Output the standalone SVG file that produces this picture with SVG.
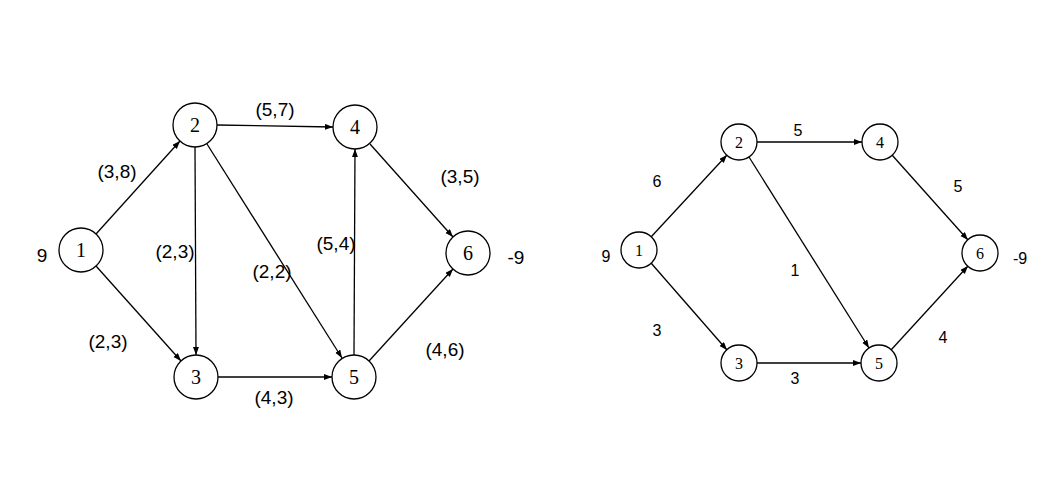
<svg xmlns="http://www.w3.org/2000/svg" width="1053" height="489" viewBox="0 0 1053 489">
<style>
.n{fill:#fff;stroke:#000;stroke-width:1.3}
.nt{font-family:"Liberation Serif",serif;text-anchor:middle;fill:#000}
.lt{font-family:"Liberation Sans",sans-serif;text-anchor:middle;fill:#000}
.e{stroke:#000;stroke-width:1.3;fill:none;marker-end:url(#a)}
</style>
<defs><marker id="a" markerUnits="userSpaceOnUse" markerWidth="9" markerHeight="7" refX="8" refY="3" orient="auto"><path d="M0,0 L8,3 L0,6 z" fill="#000"/></marker></defs>
<rect width="1053" height="489" fill="#fff"/>
<g id="connectors">
<line class="e" x1="96" y1="234" x2="180" y2="141"/>
<line class="e" x1="96" y1="266" x2="181" y2="361"/>
<line class="e" x1="217" y1="125" x2="333" y2="127"/>
<line class="e" x1="195" y1="147" x2="196" y2="355"/>
<line class="e" x1="207" y1="144" x2="342" y2="358"/>
<line class="e" x1="354" y1="355" x2="355" y2="149"/>
<line class="e" x1="370" y1="144" x2="453" y2="237"/>
<line class="e" x1="218" y1="377" x2="332" y2="377"/>
<line class="e" x1="369" y1="361" x2="453" y2="269"/>
<line class="e" x1="651" y1="237" x2="727" y2="155"/>
<line class="e" x1="651" y1="263" x2="727" y2="350"/>
<line class="e" x1="757" y1="142" x2="862" y2="142"/>
<line class="e" x1="749" y1="157" x2="869" y2="348"/>
<line class="e" x1="892" y1="155" x2="968" y2="240"/>
<line class="e" x1="757" y1="363" x2="861" y2="363"/>
<line class="e" x1="891" y1="350" x2="968" y2="266"/>
</g>
<g id="L1"><circle class="n" cx="81" cy="250" r="22"/><text class="nt" x="81" y="257" font-size="20">1</text></g>
<g id="L2"><circle class="n" cx="195" cy="125" r="22"/><text class="nt" x="195" y="132" font-size="20">2</text></g>
<g id="L3"><circle class="n" cx="196" cy="377" r="22"/><text class="nt" x="196" y="384" font-size="20">3</text></g>
<g id="L4"><circle class="n" cx="355" cy="127" r="22"/><text class="nt" x="355" y="134" font-size="20">4</text></g>
<g id="L5"><circle class="n" cx="354" cy="377" r="22"/><text class="nt" x="354" y="384" font-size="20">5</text></g>
<g id="L6"><circle class="n" cx="468" cy="253" r="22"/><text class="nt" x="468" y="260" font-size="20">6</text></g>
<g id="R1"><circle class="n" cx="639" cy="250" r="18"/><text class="nt" x="639" y="256" font-size="16">1</text></g>
<g id="R2"><circle class="n" cx="739" cy="142" r="18"/><text class="nt" x="739" y="148" font-size="16">2</text></g>
<g id="R3"><circle class="n" cx="739" cy="363" r="18"/><text class="nt" x="739" y="369" font-size="16">3</text></g>
<g id="R4"><circle class="n" cx="880" cy="142" r="18"/><text class="nt" x="880" y="148" font-size="16">4</text></g>
<g id="R5"><circle class="n" cx="879" cy="363" r="18"/><text class="nt" x="879" y="369" font-size="16">5</text></g>
<g id="R6"><circle class="n" cx="980" cy="253" r="18"/><text class="nt" x="980" y="259" font-size="16">6</text></g>
<g id="labels" font-size="19">
<text class="lt" x="42" y="262">9</text>
<text class="lt" x="516" y="264">-9</text>
<text class="lt" x="117" y="178">(3,8)</text>
<text class="lt" x="275" y="116">(5,7)</text>
<text class="lt" x="175" y="258">(2,3)</text>
<text class="lt" x="272" y="278">(2,2)</text>
<text class="lt" x="336" y="250">(5,4)</text>
<text class="lt" x="460" y="183">(3,5)</text>
<text class="lt" x="108" y="348">(2,3)</text>
<text class="lt" x="274" y="404">(4,3)</text>
<text class="lt" x="445" y="356">(4,6)</text>
</g>
<g id="labels2" font-size="16">
<text class="lt" x="606" y="262">9</text>
<text class="lt" x="1020" y="264">-9</text>
<text class="lt" x="657" y="187">6</text>
<text class="lt" x="798" y="136">5</text>
<text class="lt" x="958" y="192">5</text>
<text class="lt" x="795" y="276">1</text>
<text class="lt" x="657" y="336">3</text>
<text class="lt" x="795" y="384">3</text>
<text class="lt" x="943" y="343">4</text>
</g>
</svg>
